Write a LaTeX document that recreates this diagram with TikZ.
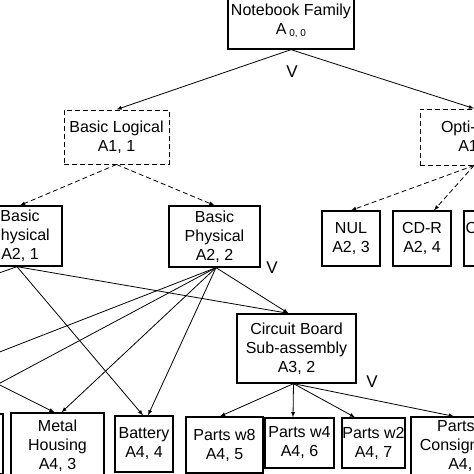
\documentclass[tikz,border=0pt]{standalone}
\usepackage{fontspec}
\setmainfont{Liberation Sans}
\tikzset{
	box/.style={draw, line width=1.3pt, align=center, inner sep=0pt, font=\fontsize{16}{19}\selectfont},
	dbox/.style={box, line width=1pt, dash pattern=on 5pt off 3pt},
	link/.style={-latex, line width=0.8pt},
	dlink/.style={link, dash pattern=on 5pt off 3pt},
	orsym/.style={font=\fontsize{17}{17}\selectfont}
}
\newcommand{\idx}[1]{\,\raisebox{-2pt}{\fontsize{10}{10}\selectfont #1}}

\begin{document}
\begin{tikzpicture}[x=1pt,y=-1pt]
		%%%%% START %%%%%
		\useasboundingbox (0,0) rectangle (474,474);
		\clip (0,0) rectangle (474,474);
		
		\node[box, minimum width=126, minimum height=57] (nb) at (291,20.5) {Notebook Family\\A\idx{0, 0}};
		
		\node[dbox, minimum width=105, minimum height=54] (bl) at (116.5,137) {Basic Logical\\A1, 1};
		\node[dbox, minimum width=114, minimum height=56] (op) at (477,137) {Opti-Drive\\A1, 2};
		
		\node[box, minimum width=84, minimum height=60] (p1) at (20,236) {Basic\\Physical\\A2, 1};
		\node[box, minimum width=91, minimum height=61] (p2) at (214.5,236.5) {Basic\\Physical\\A2, 2};
		\node[box, minimum width=58, minimum height=55] (nul) at (351,238.5) {NUL\\A2, 3};
		\node[box, minimum width=58, minimum height=55] (cdr) at (422,238.5) {CD-R\\A2, 4};
		\node[box, minimum width=58, minimum height=55] (cdrw) at (493,238.5) {CD-RW\\A2, 5};
		
		\node[box, minimum width=119, minimum height=69] (cb) at (296.5,348.5) {Circuit Board\\Sub-assembly\\A3, 2};
		
		\node[box, minimum width=63, minimum height=60] (lb) at (-28.5,444) {};
		\node[box, minimum width=93, minimum height=66] (mh) at (57.5,446) {Metal\\Housing\\A4, 3};
		\node[box, minimum width=58, minimum height=56] (bat) at (144,444) {Battery\\A4, 4};
		\node[box, minimum width=77, minimum height=56] (pw8) at (224.5,445) {Parts w8\\A4, 5};
		\node[box, minimum width=69, minimum height=50] (pw4) at (299.5,443) {Parts w4\\A4, 6};
		\node[box, minimum width=63, minimum height=50] (pw2) at (373.5,443) {Parts w2\\A4, 7};
		\node[box, minimum width=112, minimum height=58] (pc) at (467,446) {Parts on\\Consignment\\A4, 8};
		
		% OR marks
		\node[orsym] (orA) at (292,72) {V};
		\node[orsym] (orB) at (272,268) {V};
		\node[orsym] (orC) at (372,382) {V};
		
		% ends of links that run off the left edge
		\coordinate (far0) at (-236,267);
		\coordinate (far1) at (-157,413);
		\coordinate (far2) at (-56,413);
		\coordinate (far3) at (-396,413);
		
		\draw[link] (nb.south) -- (bl.north);
		\draw[link] (nb.south) -- ([xshift=-3pt]op.north);
		
		\draw[dlink] (bl.south) -- (p1.north);
		\draw[dlink] (bl.south) -- (p2.north);
		\draw[dlink] ([xshift=-3pt]op.south) -- (nul.north);
		\draw[dlink] ([xshift=-3pt]op.south) -- ([xshift=12pt]cdr.north);
		
		\draw[link] ([xshift=-3pt]p1.south) -- ([xshift=-1pt]bat.north);
		\draw[link] ([xshift=-3pt]p1.south) -- ([xshift=-8pt]cb.north);
		\draw[link] ([xshift=-3pt]p1.south) -- (far3);
		
		\draw[link] ([xshift=1.5pt]p2.south) -- ([xshift=4pt]bat.north);
		\draw[link] ([xshift=1.5pt]p2.south) -- ([xshift=4pt]mh.north);
		\draw[link] ([xshift=1.5pt]p2.south) -- ([xshift=-8pt]cb.north);
		\draw[link] ([xshift=1.5pt]p2.south) -- (far1);
		\draw[link] ([xshift=1.5pt]p2.south) -- (far2);
		\draw[link] (far0) -- ([xshift=-3pt]mh.north);
		
		\draw[link] ([xshift=-3pt]cb.south) -- ([xshift=-4.5pt]pw8.north);
		\draw[link] ([xshift=-3pt]cb.south) -- ([xshift=-6.5pt]pw4.north);
		\draw[link] ([xshift=-3pt]cb.south) -- ([xshift=-18.5pt]pw2.north);
		\draw[link] ([xshift=-3pt]cb.south) -- ([xshift=-13pt]pc.north);
		%%%%% END %%%%%
	\end{tikzpicture}
\end{document}
